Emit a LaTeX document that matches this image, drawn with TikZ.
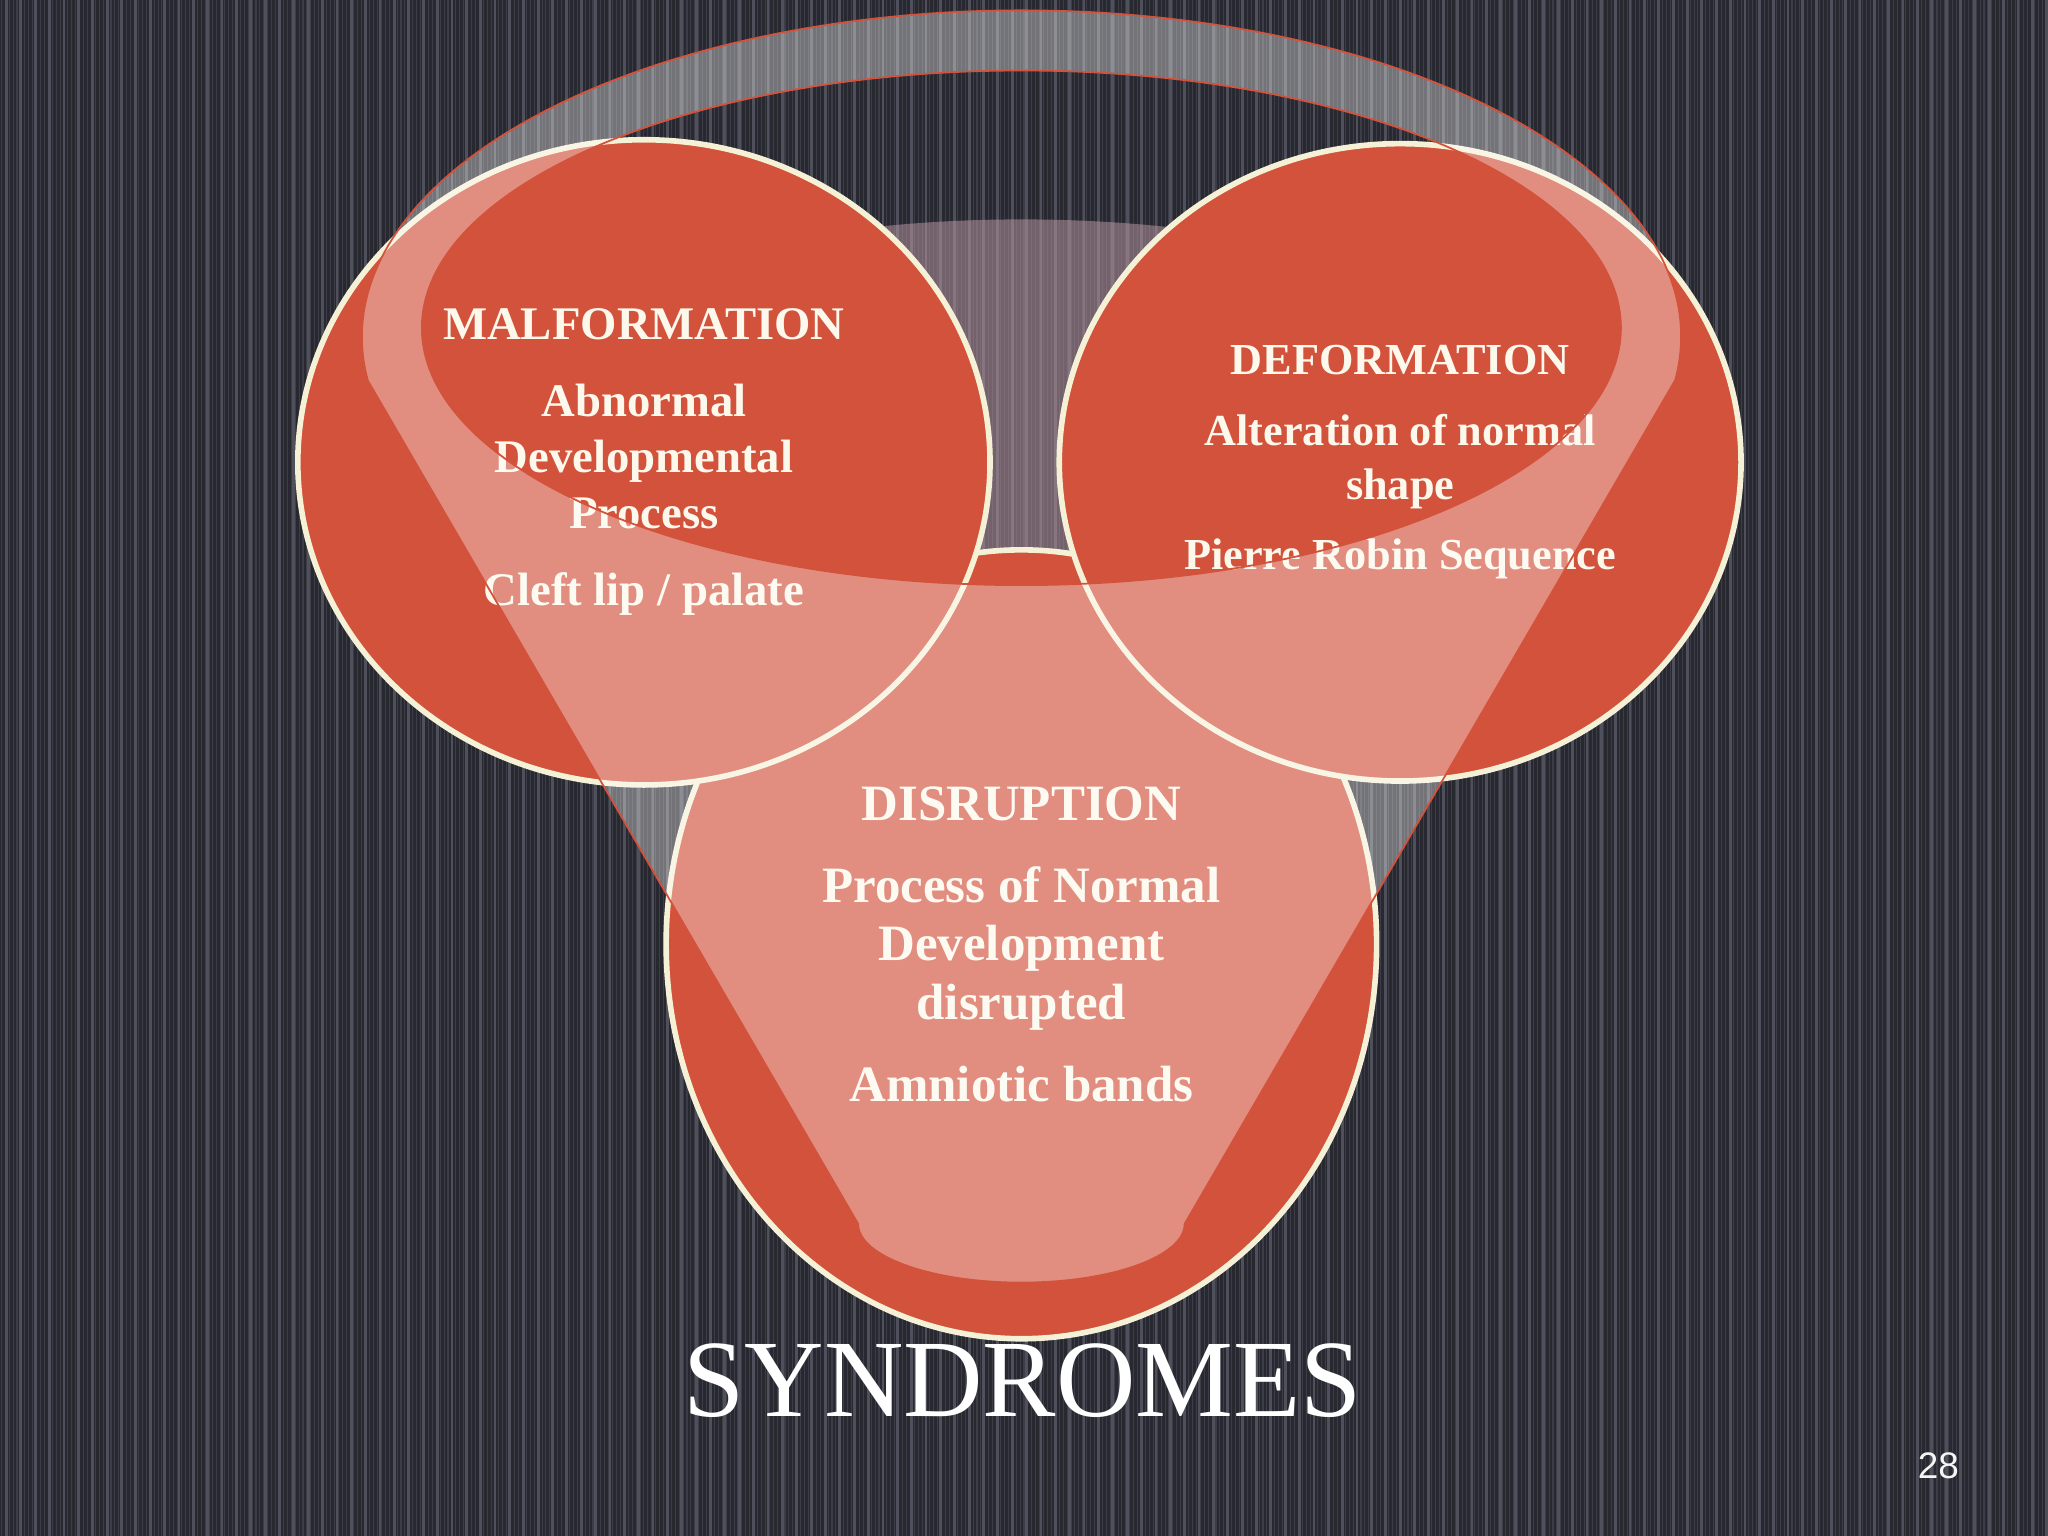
\documentclass[tikz,border=0pt]{standalone}
\usepackage{fontspec}
\setmainfont{Liberation Serif}
\newfontfamily\numfont{Liberation Sans}
\usetikzlibrary{shapes.geometric}
\definecolor{bgdark}{RGB}{40,40,49}
\definecolor{bgline}{RGB}{80,80,92}
\definecolor{petal}{RGB}{210,82,60}
\definecolor{cream}{RGB}{245,241,214}
\definecolor{mauve}{RGB}{190,155,165}
\definecolor{labeltext}{RGB}{252,248,236}

\begin{document}
\begin{tikzpicture}[x=0.013061cm, y=0.013061cm,
    petalnode/.style={ellipse, draw=cream, line width=1.6pt, fill=petal, inner sep=0pt,
                      text=labeltext, align=center},
    funnel/.style={fill=white, fill opacity=0.35, draw=petal, line width=0.5pt, even odd rule}
  ]
  \useasboundingbox (0,0) rectangle (1568,1176);
  \clip (0,0) rectangle (1568,1176);
  % striped background
  \fill[bgdark] (0,0) rectangle (1568,1176);
  \foreach \i in {0,...,522}
    \draw[bgline, line width=0.3pt, opacity=0.55] (3*\i+1,0) -- (3*\i+1,1176);
  \foreach \i in {0,...,142}
    \draw[bgline, line width=0.8pt] (11*\i+5,0) -- (11*\i+5,1176);

  % back of the funnel
  \fill[mauve, fill opacity=0.5] (782,846) ellipse [x radius=420, y radius=162];

  \node[petalnode, minimum width=7.105cm, minimum height=7.889cm,
        font=\bfseries\fontsize{14.5}{16.7}\selectfont] (disr) at (782,453)
    {DISRUPTION\\[6.5pt]Process of Normal\\Development\\disrupted\\[6.5pt]Amniotic bands};
  \node[petalnode, minimum width=6.922cm, minimum height=6.452cm,
        font=\bfseries\fontsize{13.3}{15.9}\selectfont] (malf) at (493,822)
    {MALFORMATION\\[6pt]Abnormal\\Developmental\\Process\\[6pt]Cleft lip / palate};
  \node[petalnode, minimum width=6.818cm, minimum height=6.374cm,
        font=\bfseries\fontsize{12.6}{15.2}\selectfont] (defo) at (1072,822)
    {DEFORMATION\\[5pt]Alteration of normal\\shape\\[5pt]Pierre Robin Sequence};

  % front of the funnel
  \path[funnel] (281.4,885) -- (657,239)
    arc[start angle=180, end angle=360, x radius=125, y radius=45] -- (1282.6,885)
    arc[start angle=-7.6, end angle=187.6, x radius=505, y radius=250] -- cycle
    (782,925) ellipse [x radius=459, y radius=197];

  \node[text=white, font=\fontsize{31.3}{31.3}\selectfont] (title) at (783,119) {SYNDROMES};
  \node[text=white!92!gray, font=\numfont\fontsize{10.5}{12}\selectfont] (pagenum) at (1484,54) {28};
\end{tikzpicture}
\end{document}
